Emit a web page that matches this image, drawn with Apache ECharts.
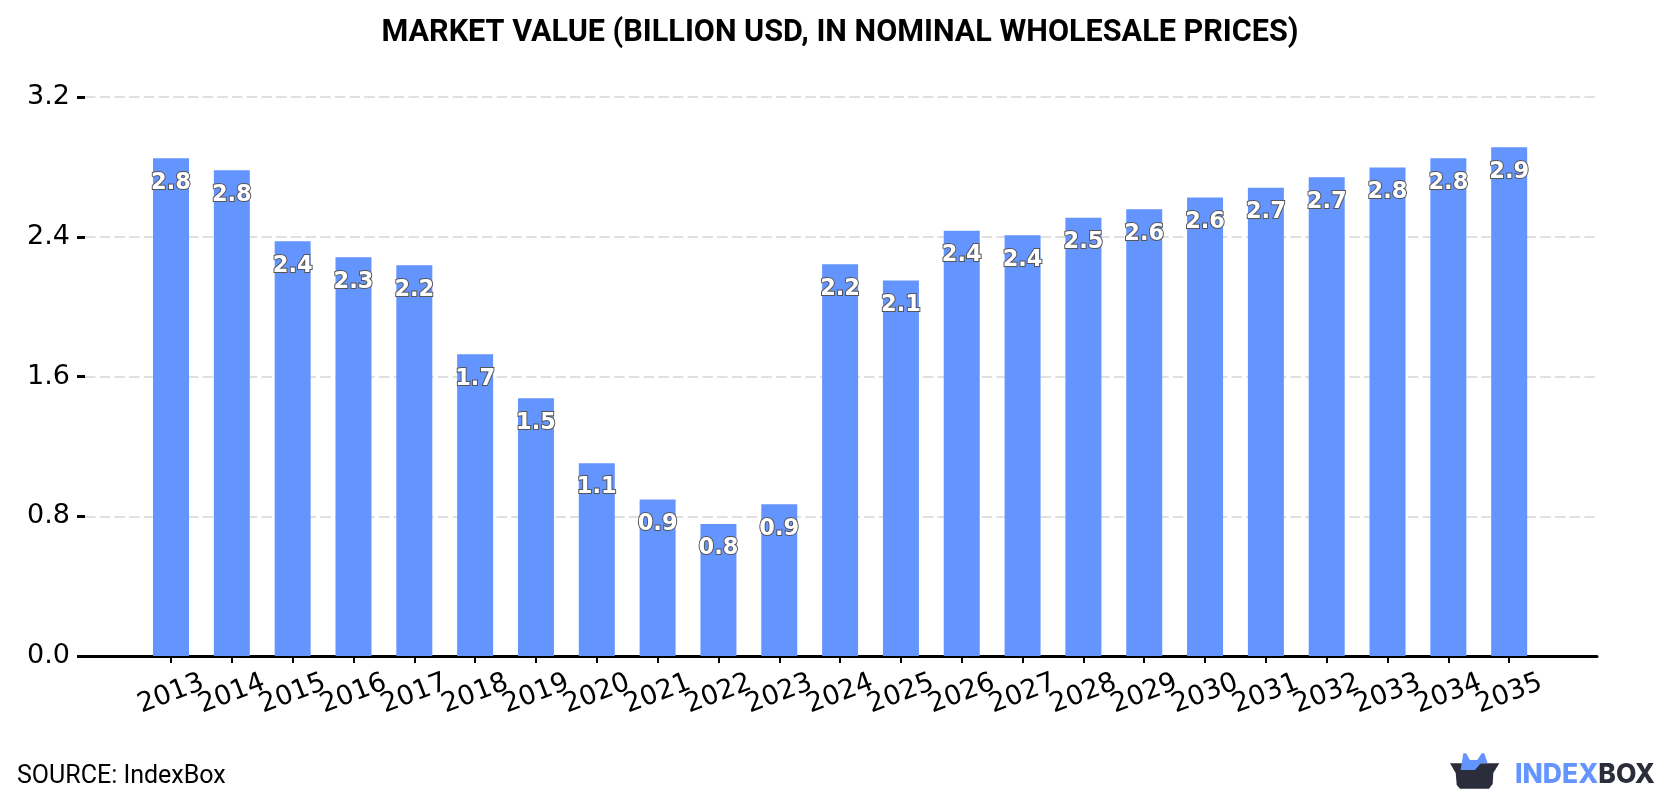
<!DOCTYPE html>
<html>
<head>
<meta charset="utf-8">
<style>html,body{margin:0;padding:0;background:#fff}#chart{width:1680px;height:800px}</style>
<script src="https://cdn.jsdelivr.net/npm/echarts@6/dist/echarts.min.js"></script>
</head>
<body>
<div id="chart"></div>
<script>
// Market value by year, billion USD
const years = ['2013','2014','2015','2016','2017','2018','2019','2020','2021','2022','2023','2024','2025','2026','2027','2028','2029','2030','2031','2032','2033','2034','2035'];
const marketValue = [2.849,2.78,2.374,2.283,2.237,1.727,1.476,1.104,0.896,0.755,0.869,2.242,2.149,2.435,2.408,2.509,2.557,2.625,2.68,2.74,2.797,2.849,2.912];
const valueTicks = [0,0.8,1.6,2.4,3.2];

const BLUE = '#6495ff';
const DARK = '#2b2d3b';
const chart = echarts.init(document.getElementById('chart'), null, {renderer:'canvas'});

chart.setOption({
  animation:false,
  backgroundColor:'#fff',
  title:{
    text:'MARKET VALUE (BILLION USD, IN NOMINAL WHOLESALE PRICES)',
    left:'center', top:13,
    textStyle:{fontFamily:'Roboto',fontWeight:'bold',fontSize:30.6,color:'#000'}
  },
  grid:[
    {left:85,right:83,top:97,bottom:144},   // frame: value axis, gridlines, baseline
    {left:140.6,right:140.4,top:97,bottom:144} // bars sit inside this narrower band
  ],
  xAxis:[
    {type:'category',gridIndex:0,data:[''],
     axisLine:{show:true,lineStyle:{color:'#000',width:3}},
     axisTick:{show:false},axisLabel:{show:false},splitLine:{show:false}},
    {type:'category',gridIndex:1,data:years,
     axisLine:{show:false},
     axisTick:{show:true,alignWithLabel:true,length:7,lineStyle:{color:'#000',width:2}},
     axisLabel:{show:true,interval:0,rotate:21,align:'center',verticalAlign:'middle',margin:38,
       fontFamily:'DejaVu Sans',fontSize:27,color:'#000'},
     splitLine:{show:false}}
  ],
  yAxis:[
    {type:'value',gridIndex:0,min:valueTicks[0],max:valueTicks[valueTicks.length-1],interval:valueTicks[1],
     axisLine:{show:false},
     axisTick:{show:true,length:8,lineStyle:{color:'#000',width:3}},
     axisLabel:{show:true,margin:15,fontFamily:'DejaVu Sans',fontSize:27,color:'#000',
       formatter:v=>v.toFixed(1)},
     splitLine:{show:true,lineStyle:{color:'#e0e0e0',width:2,type:[10.5,4.2]}}},
    {type:'value',gridIndex:1,min:valueTicks[0],max:valueTicks[valueTicks.length-1],interval:valueTicks[1],
     show:false,splitLine:{show:false}}
  ],
  series:[{
    type:'bar',xAxisIndex:1,yAxisIndex:1,data:marketValue,barWidth:36,
    itemStyle:{color:BLUE},
    label:{show:true,position:'insideTop',distance:13,
      formatter:p=>p.value.toFixed(1),
      fontFamily:'DejaVu Sans',fontWeight:'bold',fontSize:22.5,color:'#fff',
      textBorderColor:'#555',textBorderWidth:2}
  }],
  graphic:[
    {type:'text',left:17,top:764,style:{text:'SOURCE: IndexBox',fontFamily:'Roboto',fontSize:25,fill:'#000'}},
    // logo: box with a blue crown rising out of it
    {type:'polygon',shape:{points:[[1450,763.3],[1499.3,763.3],[1493.3,773],[1492.7,784],[1489,788.7],[1460,788.7],[1456.7,785],[1455.7,773]]},style:{fill:DARK}},
    {type:'polygon',shape:{points:[[1460.7,770],[1463.3,753.3],[1466,753.3],[1470,760],[1477.3,760],[1481.7,753.3],[1484.3,753.3],[1487.7,763.3],[1480.7,763.3],[1475,770]]},style:{fill:BLUE}},
    {type:'text',left:1515,top:762,style:{
      rich:{a:{fontFamily:'Inter',fontWeight:800,fontSize:26.5,fill:BLUE},
            b:{fontFamily:'Inter',fontWeight:800,fontSize:26.5,fill:DARK}},
      text:'{a|INDEX}{b|BOX}'}}
  ]
});
</script>
</body>
</html>
